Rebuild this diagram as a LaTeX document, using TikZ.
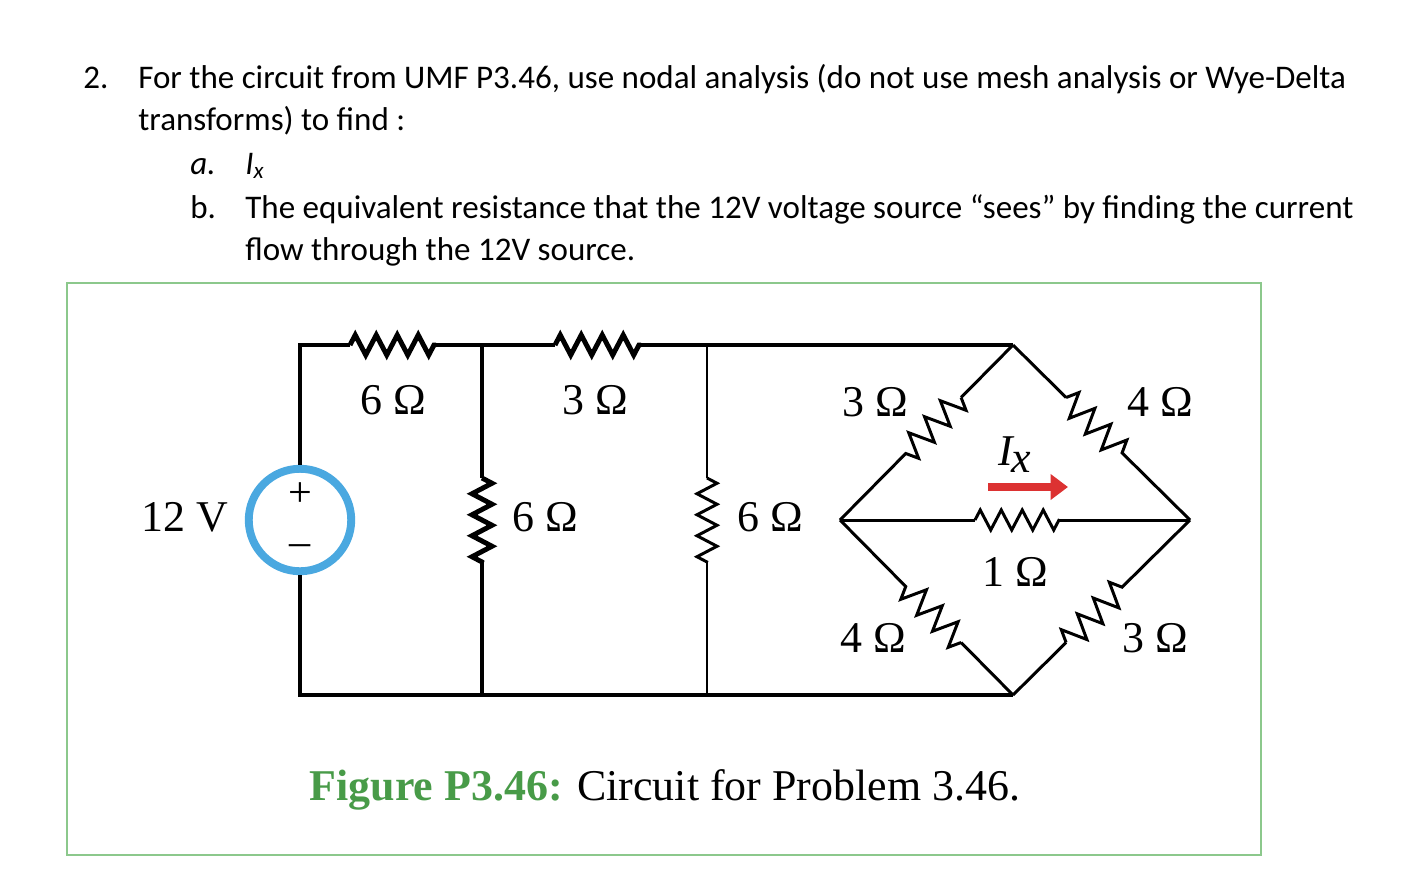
\documentclass[tikz,border=0pt]{standalone}
\usepackage{fontspec}
\setmainfont{Liberation Serif}
\newfontfamily\probfont{Carlito}
\usetikzlibrary{calc,decorations.pathmorphing,arrows.meta}
\definecolor{srcblue}{RGB}{74,168,224}
\definecolor{capgreen}{RGB}{72,155,72}
\definecolor{boxgreen}{RGB}{140,200,140}
\definecolor{arrred}{RGB}{220,50,50}

\tikzset{
  wire/.style={line width=2.8pt},
  thin wire/.style={line width=1.7pt},
  res/.style={decorate,decoration={zigzag,segment length=0.42cm,amplitude=0.2cm}},
  val/.style={font=\fontsize{25}{27}\selectfont},
  prob/.style={anchor=base west,font=\probfont\fontsize{18.8}{20}\selectfont,inner sep=0pt}
}

\begin{document}
\begin{tikzpicture}[x=0.02cm,y=-0.02cm]
            \useasboundingbox (0,0) rectangle (1428,870);
            % problem text
            \node[prob] (n2) at (83,88) {2.};
            \node[prob] (l1) at (138,88) {For the circuit from UMF P3.46, use nodal analysis (do not use mesh analysis or Wye-Delta};
            \node[prob] (l2) at (138,130) {transforms) to find :};
            \node[prob] (qa) at (190,174) {\itshape a.};
            \node[prob] (ix) at (245,174) {\itshape I\textsubscript{x}};
            \node[prob] (qb) at (190,218) {b.};
            \node[prob] (l3) at (245,218) {The equivalent resistance that the 12V voltage source “sees” by finding the current};
            \node[prob] (l4) at (245,260) {flow through the 12V source.};
            % frame
            \draw[boxgreen,line width=1.3pt] (67,283) rectangle (1261,855);
            % nodes of the circuit
            \coordinate (tl) at (300,345);
            \coordinate (bl) at (300,695);
            \coordinate (ta) at (482,345);
            \coordinate (ba) at (482,695);
            \coordinate (tb) at (707,345);
            \coordinate (bb) at (707,695);
            \coordinate (dt) at (1013,345);
            \coordinate (dl) at (840,520);
            \coordinate (dr) at (1190,520);
            \coordinate (db) at (1013,695);
            % source
            \node[circle,draw=srcblue,line width=4.5pt,minimum width=2.05cm,inner sep=0pt] (src) at (300,520) {};
            \node at (300,495) {\fontsize{24}{24}\selectfont +};
            \node at (300,550) {\fontsize{24}{24}\selectfont –};
            \draw[wire] (src.north) -- (tl) -- (350,345);
            \draw[wire,res] (350,345) -- (436,345);
            \draw[wire] (436,345) -- (555,345);
            \draw[wire,res] (555,345) -- (641,345);
            \draw[wire] (641,345) -- (dt);
            \draw[wire] (src.south) -- (bl) -- (db);
            \draw[wire] (ta) -- (482,478);
            \draw[wire,res] (482,478) -- (482,562);
            \draw[wire] (482,562) -- (ba);
            \draw[thin wire] (tb) -- (707,478);
            \draw[thin wire,res] (707,478) -- (707,562);
            \draw[thin wire] (707,562) -- (bb);
            % bridge
            \foreach \a/\b in {dt/dl,dt/dr,db/dl,db/dr}{
                \draw[thin wire] (\a) -- ($(\a)!0.3!(\b)$);
                \draw[thin wire,decorate,decoration={zigzag,segment length=0.45cm,amplitude=0.25cm}] ($(\a)!0.3!(\b)$) -- ($(\a)!0.66!(\b)$);
                \draw[thin wire] ($(\a)!0.66!(\b)$) -- (\b);
            }
            \draw[thin wire] (dl) -- (975,520);
            \draw[thin wire,res] (975,520) -- (1059,520);
            \draw[thin wire] (1059,520) -- (dr);
            \draw[arrred,line width=4pt,-{Triangle[length=0.35cm,width=0.5cm]}] (988,487) -- (1068,487);
            % labels
            \node[val] (r1) at (393,400) {6 Ω};
            \node[val] (r2) at (595,400) {3 Ω};
            \node[val] (r3) at (875,402) {3 Ω};
            \node[val] (r4) at (1160,402) {4 Ω};
            \node[val] (vs) at (185,517) {12 V};
            \node[val] (r5) at (545,517) {6 Ω};
            \node[val] (r6) at (770,517) {6 Ω};
            \node[val] (lx) at (1015,455) {\itshape I\kern-1pt\raisebox{-4pt}{x}};
            \node[val] (r7) at (1015,572) {1 Ω};
            \node[val] (r8) at (873,638) {4 Ω};
            \node[val] (r9) at (1155,638) {3 Ω};
            \node[font=\fontsize{25}{27}\selectfont] (cap) at (665,790) {\textcolor{capgreen}{\bfseries Figure P3.46:} Circuit for Problem 3.46.};
        \end{tikzpicture}
\end{document}
